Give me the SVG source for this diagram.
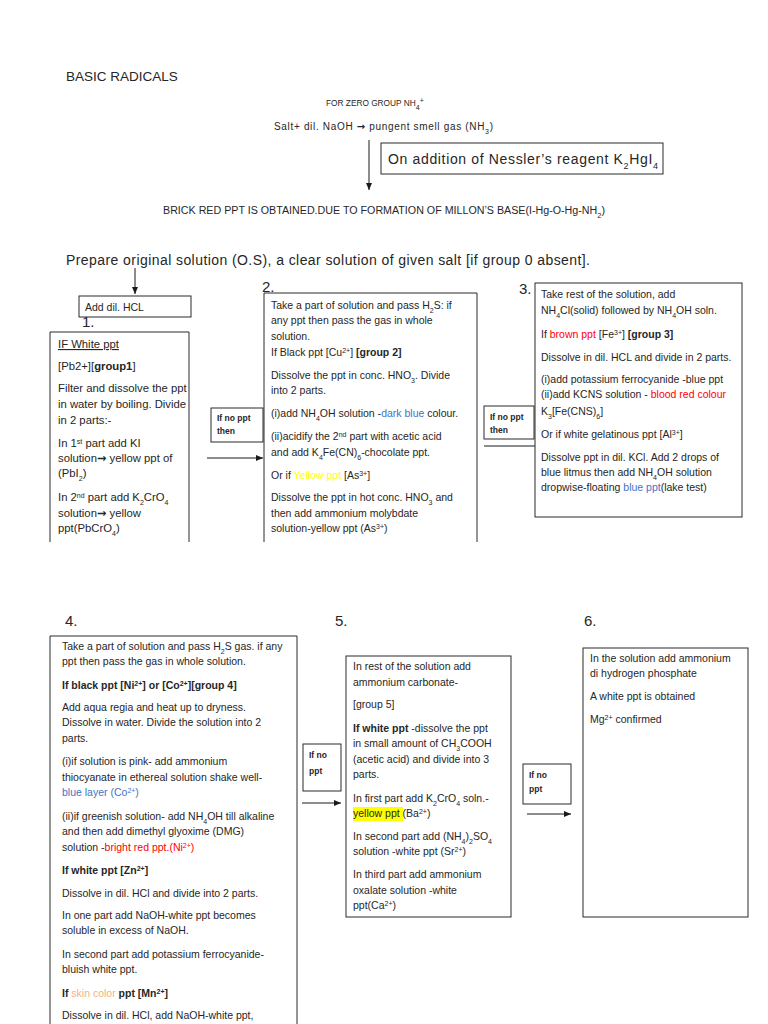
<svg xmlns="http://www.w3.org/2000/svg" width="768" height="1024" viewBox="0 0 768 1024">
<defs>
<style>
text{font-family:"Liberation Sans",Arial,sans-serif;fill:#262626;font-size:10.5px}
.b1 text{font-size:11.3px}
.box{fill:#fff;stroke:#2b2b2b;stroke-width:1}
.ln{stroke:#1a1a1a;stroke-width:1;fill:none}
.nop{font-size:8.5px;font-weight:bold}
.s{font-size:7px}
.bd{font-weight:bold}
.blue{fill:#4472C4}
.red{fill:#FF0000}
.yel{fill:#FFFF00}
.skin{fill:#F4B183}
.num{font-size:15px}
.h1{font-size:13.5px}
.h2{font-size:8.3px}
.h3{font-size:10px}
.h4{font-size:14px}
.s9{font-size:9px}
.arr{font-family:"DejaVu Sans",sans-serif;font-weight:bold}
</style>
<marker id="ah" markerWidth="8" markerHeight="8" refX="7" refY="4" orient="auto" markerUnits="userSpaceOnUse">
<path d="M0,1 L7,4 L0,7 z" fill="#1a1a1a"/>
</marker>
</defs>
<rect width="768" height="1024" fill="#fff"/>

<g id="header">
<text class="h1" x="66" y="81">BASIC RADICALS</text>
<text class="h2" x="326" y="106">FOR ZERO GROUP NH<tspan class="s" baseline-shift="sub">4</tspan><tspan class="s" baseline-shift="super">+</tspan></text>
<text class="h3" x="274" y="130" textLength="219">Salt+ dil. NaOH <tspan class="arr">→</tspan> pungent smell gas (NH<tspan class="s" baseline-shift="sub">3</tspan>)</text>
<text class="h3" x="163" y="214" textLength="442" lengthAdjust="spacingAndGlyphs">BRICK RED PPT IS OBTAINED.DUE TO FORMATION OF MILLON’S BASE(I-Hg-O-Hg-NH<tspan class="s" baseline-shift="sub">2</tspan>)</text>
<text class="h4" x="66" y="265" textLength="524">Prepare original solution (O.S), a clear solution of given salt [if group 0 absent].</text>
</g>

<g id="nessler">
<rect class="box" x="381" y="143" width="282" height="31"/>
<text class="h4" x="388" y="164" textLength="270">On addition of Nessler’s reagent K<tspan class="s9" baseline-shift="sub">2</tspan>HgI<tspan class="s9" baseline-shift="sub">4</tspan></text>
</g>

<g id="labels">
<text class="num" x="82" y="327">1.</text>
<text class="num" x="262" y="292">2.</text>
<text class="num" x="519" y="294">3.</text>
<text class="num" x="65" y="626">4.</text>
<text class="num" x="335" y="626">5.</text>
<text class="num" x="584" y="626">6.</text>
</g>

<g id="connectors">
<line class="ln" x1="369" y1="140" x2="369" y2="190" marker-end="url(#ah)"/>
<line class="ln" x1="135" y1="268" x2="135" y2="294" marker-end="url(#ah)"/>
<line class="ln" x1="207" y1="458" x2="263" y2="458" marker-end="url(#ah)"/>
<line class="ln" x1="484" y1="446" x2="535" y2="446"/>
<line class="ln" x1="302" y1="803" x2="341" y2="803" marker-end="url(#ah)"/>
<line class="ln" x1="527" y1="814" x2="571" y2="814" marker-end="url(#ah)"/>
</g>

<g id="hcl">
<rect class="box" x="79" y="296" width="112" height="21"/>
<text x="85" y="311">Add dil. HCL</text>
</g>

<g id="group1" class="b1">
<path class="box" d="M50,542 V332 H189 V542"/>
<text x="58" y="348" text-decoration="underline">IF White ppt </text>
<text x="58" y="370">[Pb2+][<tspan class="bd">group1</tspan>]</text>
<text x="58" y="392">Filter and dissolve the ppt</text>
<text x="58" y="408">in water by boiling. Divide</text>
<text x="58" y="424">in 2 parts:-</text>
<text x="58" y="447">In 1<tspan class="s" baseline-shift="super">st</tspan> part add KI</text>
<text x="58" y="462">solution<tspan class="arr">→</tspan> yellow ppt of</text>
<text x="58" y="477">(PbI<tspan class="s" baseline-shift="sub">2</tspan>)</text>
<text x="58" y="501">In 2<tspan class="s" baseline-shift="super">nd</tspan> part add K<tspan class="s" baseline-shift="sub">2</tspan>CrO<tspan class="s" baseline-shift="sub">4</tspan></text>
<text x="58" y="517">solution<tspan class="arr">→</tspan> yellow</text>
<text x="58" y="532">ppt(PbCrO<tspan class="s" baseline-shift="sub">4</tspan>)</text>
</g>

<g id="noppt1">
<rect class="box" x="211" y="408" width="52" height="34"/>
<text class="nop" x="217" y="421">If no ppt</text>
<text class="nop" x="217" y="434">then</text>
</g>

<g id="group2">
<path class="box" d="M264,542 V293 H477 V542"/>
<text x="271" y="309">Take a part of solution and pass H<tspan class="s" baseline-shift="sub">2</tspan>S: if</text>
<text x="271" y="324">any ppt then pass the gas in whole</text>
<text x="271" y="340">solution.</text>
<text x="271" y="356">If Black ppt [Cu<tspan class="s" baseline-shift="super">2+</tspan>] <tspan class="bd">[group 2]</tspan></text>
<text x="271" y="379">Dissolve the ppt in conc. HNO<tspan class="s" baseline-shift="sub">3</tspan>. Divide</text>
<text x="271" y="394">into 2 parts.</text>
<text x="271" y="417">(i)add NH<tspan class="s" baseline-shift="sub">4</tspan>OH solution -<tspan class="blue">dark blue</tspan> colour.</text>
<text x="271" y="440">(ii)acidify the 2<tspan class="s" baseline-shift="super">nd</tspan> part with acetic acid</text>
<text x="271" y="456">and add K<tspan class="s" baseline-shift="sub">4</tspan>Fe(CN)<tspan class="s" baseline-shift="sub">6</tspan>-chocolate ppt.</text>
<text x="271" y="479">Or if <tspan class="yel">Yellow ppt</tspan> [As<tspan class="s" baseline-shift="super">3+</tspan>]</text>
<text x="271" y="501">Dissolve the ppt in hot conc. HNO<tspan class="s" baseline-shift="sub">3</tspan> and</text>
<text x="271" y="517">then add ammonium molybdate</text>
<text x="271" y="532">solution-yellow ppt (As<tspan class="s" baseline-shift="super">3+</tspan>)</text>
</g>

<g id="noppt2">
<rect class="box" x="484" y="406" width="50" height="33"/>
<text class="nop" x="490" y="420">If no ppt</text>
<text class="nop" x="490" y="433">then</text>
</g>

<g id="group3">
<rect class="box" x="535" y="283" width="207" height="234"/>
<text x="541" y="298">Take rest of the solution, add</text>
<text x="541" y="314">NH<tspan class="s" baseline-shift="sub">4</tspan>Cl(solid) followed by NH<tspan class="s" baseline-shift="sub">4</tspan>OH soln.</text>
<text x="541" y="338">If <tspan class="red">brown ppt</tspan> [Fe<tspan class="s" baseline-shift="super">3+</tspan>] <tspan class="bd">[group 3]</tspan></text>
<text x="541" y="361">Dissolve in dil. HCL and divide in 2 parts.</text>
<text x="541" y="383">(i)add potassium ferrocyanide -blue ppt</text>
<text x="541" y="398">(ii)add KCNS solution - <tspan class="red">blood red colour</tspan></text>
<text x="541" y="415">K<tspan class="s" baseline-shift="sub">3</tspan>[Fe(CNS)<tspan class="s" baseline-shift="sub">6</tspan>]</text>
<text x="541" y="438">Or if white gelatinous ppt [Al<tspan class="s" baseline-shift="super">3+</tspan>]</text>
<text x="541" y="461">Dissolve ppt in dil. KCl. Add 2 drops of</text>
<text x="541" y="476">blue litmus then add NH<tspan class="s" baseline-shift="sub">4</tspan>OH solution</text>
<text x="541" y="491">dropwise-floating <tspan class="blue">blue ppt</tspan>(lake test)</text>
</g>

<g id="group4">
<path class="box" d="M50,1025 V636 H297 V1025"/>
<text x="62" y="650">Take a part of solution and pass H<tspan class="s" baseline-shift="sub">2</tspan>S gas. if any</text>
<text x="62" y="665">ppt then pass the gas in whole solution.</text>
<text x="62" y="689" class="bd">If black ppt [Ni<tspan class="s" baseline-shift="super">2+</tspan>] or [Co<tspan class="s" baseline-shift="super">2+</tspan>][group 4]</text>
<text x="62" y="711">Add aqua regia and heat up to dryness.</text>
<text x="62" y="726">Dissolve in water. Divide the solution into 2</text>
<text x="62" y="742">parts.</text>
<text x="62" y="765">(i)if solution is pink- add ammonium</text>
<text x="62" y="781">thiocyanate in ethereal solution shake well-</text>
<text x="62" y="796" class="blue">blue layer (Co<tspan class="s" baseline-shift="super">2+</tspan>)</text>
<text x="62" y="820">(ii)if greenish solution- add NH<tspan class="s" baseline-shift="sub">4</tspan>OH till alkaline</text>
<text x="62" y="835">and then add dimethyl glyoxime (DMG)</text>
<text x="62" y="851">solution -<tspan class="red">bright red ppt.(Ni<tspan class="s" baseline-shift="super">2+</tspan>)</tspan></text>
<text x="62" y="874" class="bd">If white ppt [Zn<tspan class="s" baseline-shift="super">2+</tspan>]</text>
<text x="62" y="897">Dissolve in dil. HCl and divide into 2 parts.</text>
<text x="62" y="919">In one part add NaOH-white ppt becomes</text>
<text x="62" y="934">soluble in excess of NaOH.</text>
<text x="62" y="958">In second part add potassium ferrocyanide-</text>
<text x="62" y="973">bluish white ppt.</text>
<text x="62" y="997"><tspan class="bd">If </tspan><tspan class="skin">skin color</tspan><tspan class="bd"> ppt [Mn<tspan class="s" baseline-shift="super">2+</tspan>]</tspan></text>
<text x="62" y="1019">Dissolve in dil. HCl, add NaOH-white ppt,</text>
</g>

<g id="noppt4">
<rect class="box" x="303" y="744" width="38" height="47"/>
<text class="nop" x="309" y="758">If no</text>
<text class="nop" x="309" y="774">ppt</text>
</g>

<g id="group5">
<rect class="box" x="346" y="656" width="165" height="261"/>
<text x="353" y="670">In rest of the solution add</text>
<text x="353" y="686">ammonium carbonate-</text>
<text x="353" y="708">[group 5]</text>
<text x="353" y="732"><tspan class="bd">If white ppt</tspan> -dissolve the ppt</text>
<text x="353" y="747">in small amount of CH<tspan class="s" baseline-shift="sub">3</tspan>COOH</text>
<text x="353" y="763">(acetic acid) and divide into 3</text>
<text x="353" y="778">parts.</text>
<text x="353" y="802">In first part add K<tspan class="s" baseline-shift="sub">2</tspan>CrO<tspan class="s" baseline-shift="sub">4</tspan> soln.-</text>
<rect x="353" y="807" width="50" height="14" fill="#FFFF00"/>
<text x="353" y="817">yellow ppt (Ba<tspan class="s" baseline-shift="super">2+</tspan>)</text>
<text x="353" y="840">In second part add (NH<tspan class="s" baseline-shift="sub">4</tspan>)<tspan class="s" baseline-shift="sub">2</tspan>SO<tspan class="s" baseline-shift="sub">4</tspan></text>
<text x="353" y="855">solution -white ppt (Sr<tspan class="s" baseline-shift="super">2+</tspan>)</text>
<text x="353" y="878">In third part add ammonium</text>
<text x="353" y="894">oxalate solution -white</text>
<text x="353" y="909">ppt(Ca<tspan class="s" baseline-shift="super">2+</tspan>)</text>
</g>

<g id="noppt5">
<rect class="box" x="523" y="764" width="48" height="40"/>
<text class="nop" x="529" y="778">If no</text>
<text class="nop" x="529" y="792">ppt</text>
</g>

<g id="group6">
<rect class="box" x="583" y="648" width="165" height="269"/>
<text x="590" y="662">In the solution add ammonium</text>
<text x="590" y="677">di hydrogen phosphate</text>
<text x="590" y="700">A white ppt is obtained</text>
<text x="590" y="723">Mg<tspan class="s" baseline-shift="super">2+</tspan> confirmed</text>
</g>
</svg>
